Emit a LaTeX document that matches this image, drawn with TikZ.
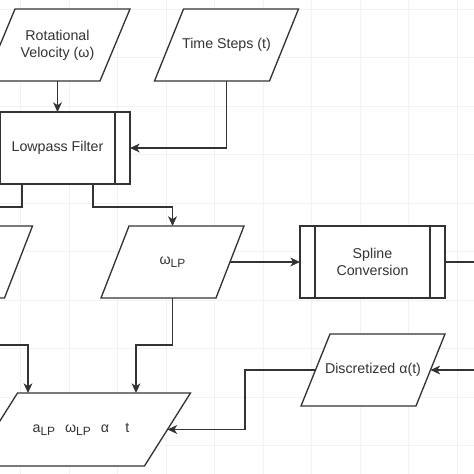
\documentclass[tikz,border=0pt]{standalone}
\usepackage{fontspec}
\setmainfont{Liberation Sans}
\usepackage{tikz}
\usetikzlibrary{arrows.meta, positioning, calc}
\pgfdeclarelayer{background}
\pgfsetlayers{background,main}

\newcommand{\lpsub}{\raisebox{-0.45ex}{\fontsize{6.8}{7}\selectfont LP}}

\tikzset{
  flowline/.style={draw=black!80, line width=0.75pt},
  flowarrow/.style={flowline, -{Stealth[length=5.5pt, width=5pt, inset=1.6pt]}},
  iobox/.style={rectangle, minimum width=2.3cm, minimum height=1.44cm,
    inner sep=0pt, outer sep=0pt, text=black!80, align=center,
    font=\fontsize{8.1}{9.7}\selectfont},
  procbox/.style={rectangle, minimum width=2.9cm, minimum height=1.44cm,
    inner sep=0pt, outer sep=0pt, draw=black!80, line width=0.75pt, fill=white,
    text=black!80, align=center, font=\fontsize{8.1}{9.7}\selectfont},
  gridline/.style={draw=black!5, line width=0.5pt}
}

\begin{document}
\begin{tikzpicture}[x=0.02cm, y=-0.02cm]
\useasboundingbox (0,0) rectangle (474,474);
\clip (0,0) rectangle (474,474);

% inputs
\node[iobox] (rotvel) at (57.5, 45) {Rotational\\Velocity (ω)};
\node[iobox] (tsteps) at (226.5, 45) {Time Steps (t)};

% filtering
\node[procbox] (lowpass) at (57.5, 148) {Lowpass Filter};
\node[iobox] (alp) at (-39, 262) {};
\node[iobox] (wlp) at (172.5, 262) {ω\lpsub};
\node[procbox] (spline) at (372.5, 262) {Spline\\Conversion};
\node[iobox] (discr) at (373, 370) {Discretized α(t)};

% combined output
\node[iobox, minimum width=3.46cm, minimum height=1.46cm] (result) at (81, 429.5)
      {a\lpsub\hspace{0.7em}ω\lpsub\hspace{0.7em}α\hspace{1.15em}t};

\begin{pgfonlayer}{background}
\fill[white] (0,0) rectangle (474,474);
% background grid
\foreach \g in {0,1,...,9} {
    \draw[gridline] (20.5+48.5*\g, 0) -- (20.5+48.5*\g, 474);
    \draw[gridline] (0, 9+48.5*\g) -- (474, 9+48.5*\g);
}
% slanted data boxes
\foreach \n/\s in {rotvel/30, tsteps/29, alp/28, wlp/28, discr/29, result/46} {
    \draw[flowline, fill=white] ($(\n.north west)+(\s/2,0)$) -- ($(\n.north east)+(\s/2,0)$)
        -- ($(\n.south east)-(\s/2,0)$) -- ($(\n.south west)-(\s/2,0)$) -- cycle;
}
\end{pgfonlayer}

% double side bars of the process boxes
\foreach \n in {lowpass, spline} {
    \draw[flowline] ($(\n.north west)+(15,0)$) -- ($(\n.south west)+(15,0)$);
    \draw[flowline] ($(\n.north east)-(15,0)$) -- ($(\n.south east)-(15,0)$);
}

\coordinate (splineout) at (490, 262);
\coordinate (discrin) at (490, 370);

\draw[flowarrow] (rotvel.south) -- (lowpass.north);
\draw[flowarrow] (tsteps.south) |- (lowpass.east);
\draw[flowarrow] ($(lowpass.south west)+(37,0)$) -- ++(0,23) -| (alp.north);
\draw[flowarrow] ($(lowpass.south west)+(108,0)$) -- ++(0,23) -| (wlp.north);
\draw[flowarrow] (wlp.east) -- (spline.west);
\draw[flowline] (spline.east) -- (splineout);
\draw[flowarrow] (discrin) -- (discr.east);
\draw[flowarrow] (discr.west) -- ++(-70.5,0) |- (result.east);
\draw[flowarrow] (wlp.south) -- ++(0,47) -| ($(result.north)+(55,0)$);
\draw[flowarrow] (alp.south) -- ++(0,47) -| ($(result.north)+(-53,0)$);
\end{tikzpicture}
\end{document}
